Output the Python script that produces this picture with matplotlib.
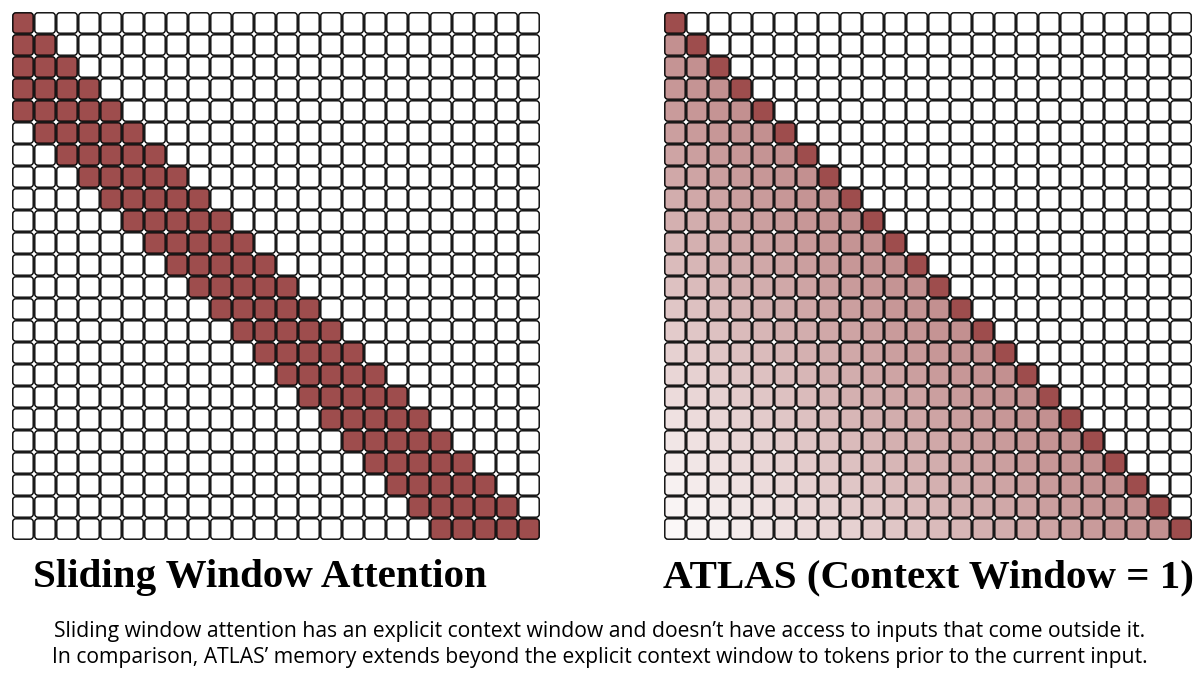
import matplotlib
matplotlib.use("Agg")
import matplotlib.pyplot as plt
from matplotlib.patches import FancyBboxPatch

n_tokens = 24
window_size = 5
# ATLAS memory strength by distance below diagonal (1..23)
atlas_alpha = [0.62, 0.60, 0.58, 0.56, 0.54, 0.51, 0.49, 0.46, 0.44, 0.41, 0.38, 0.35,
               0.32, 0.29, 0.26, 0.23, 0.20, 0.17, 0.14, 0.11, 0.08, 0.06, 0.04]
titles = ["Sliding Window Attention", "ATLAS (Context Window = 1)"]
caption = ["Sliding window attention has an explicit context window and doesn\u2019t have access to inputs that come outside it.",
           "In comparison, ATLAS\u2019 memory extends beyond the explicit context window to tokens prior to the current input."]
color = (0.62, 0.30, 0.30)

fig = plt.figure(figsize=(12, 6.75), dpi=100)
ax = fig.add_axes([0, 0, 1, 1])
ax.set_xlim(0, 1200); ax.set_ylim(675, 0); ax.axis("off")

def grid(x0, y0, size, fillfn):
    c = size / n_tokens
    for i in range(n_tokens):
        for j in range(n_tokens):
            a = fillfn(i, j)
            fc = (1, 1, 1) if a <= 0 else tuple(1 - a * (1 - v) for v in color)
            ax.add_patch(FancyBboxPatch((x0 + j * c + 0.8, y0 + i * c + 0.8), c - 1.6, c - 1.6,
                                        boxstyle="round,pad=0,rounding_size=3",
                                        fc=fc, ec="black", lw=1.0))

def swa(i, j):
    return 1.0 if 0 <= i - j < window_size else 0.0

def atlas(i, j):
    d = i - j
    if d == 0:
        return 1.0
    if d > 0:
        return atlas_alpha[d - 1]
    return 0.0

grid(12, 12, 528, swa)
grid(664, 12, 528, atlas)

for x, t in zip([260, 928], titles):
    ax.text(x, 578, t, ha="center", va="center", fontsize=29.5, family="Liberation Serif",
            fontweight="bold")
for k, line in enumerate(caption):
    ax.text(600, 632 + k * 26, line, ha="center", va="center", fontsize=15.2, family="Open Sans")

fig.savefig("out.png", dpi=100)
